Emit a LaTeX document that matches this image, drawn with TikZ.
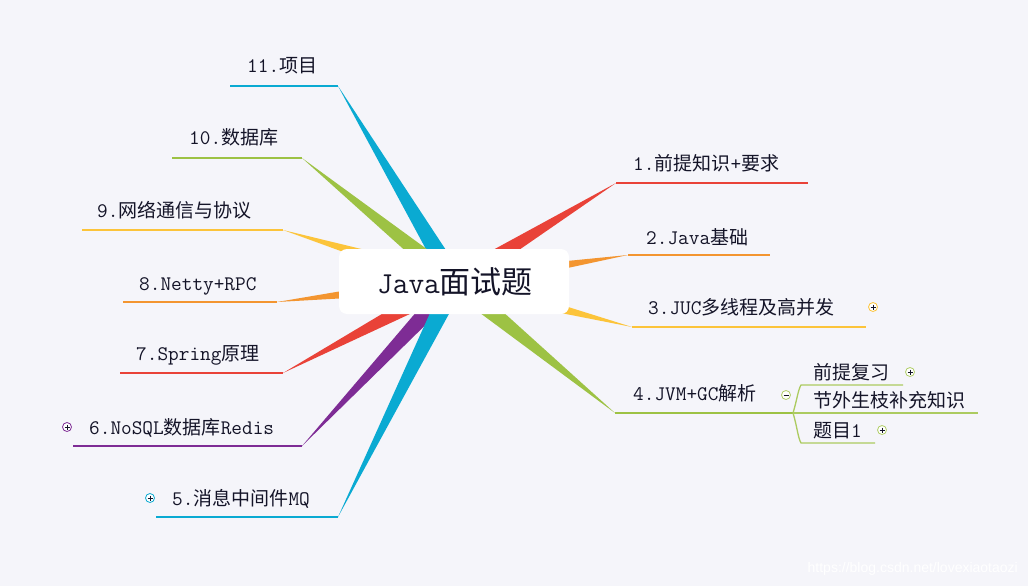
\documentclass[tikz,border=0pt]{standalone}
\usepackage{fontspec}
\newfontfamily\cjk{Noto Sans CJK SC}
\newfontfamily\wmfont{Liberation Sans}
\usetikzlibrary{calc}
\newcommand\zh[1]{{\fontsize{19}{21}\cjk #1}}
\newcommand\zhbig[1]{{\fontsize{31}{34}\cjk #1}}
\definecolor{bg}{RGB}{245,245,250}
\definecolor{cred}{RGB}{233,66,56}
\definecolor{corange}{RGB}{243,149,48}
\definecolor{cyellow}{RGB}{252,196,58}
\definecolor{cgreen}{RGB}{157,194,68}
\definecolor{ccyan}{RGB}{10,170,210}
\definecolor{cpurple}{RGB}{126,44,149}
\definecolor{ctext}{RGB}{20,20,40}
\newcommand\bw[2]{\fill[#1] (#2) -- ($(c)!10pt!90:(#2)$) -- ($(c)!10pt!-90:(#2)$) -- cycle;}
\begin{document}
\begin{tikzpicture}[x=1pt,y=-1pt,
  lbl/.style={anchor=base west, inner sep=0pt, font=\ttfamily\fontsize{20.7}{22}\selectfont, text=ctext},
  sublbl/.style={anchor=base west, inner sep=0pt, font=\ttfamily\fontsize{20.7}{22}\selectfont, text=ctext},
  ln/.style={line width=2pt},
  subln/.style={line width=1.3pt, cgreen!85},
  icon/.style={circle, minimum size=9pt, inner sep=0pt, line width=0.8pt, fill=white},
  sign/.style={line width=0.8pt, ctext}]
\fill[bg] (0,0) rectangle (1028,586);
\useasboundingbox (0,0) rectangle (1028,586);
\coordinate (c) at (455,282);
% line start points
\coordinate (a1) at (616,183);  \coordinate (b1) at (808,183);
\coordinate (a2) at (628,255);  \coordinate (b2) at (770,255);
\coordinate (a3) at (632,327);  \coordinate (b3) at (866,327);
\coordinate (a4) at (615,413);  \coordinate (b4) at (793,413);
\coordinate (a5) at (338,517);  \coordinate (b5) at (156,517);
\coordinate (a6) at (302,446);  \coordinate (b6) at (73,446);
\coordinate (a7) at (283,373);  \coordinate (b7) at (120,373);
\coordinate (a8) at (277,302);  \coordinate (b8) at (123,302);
\coordinate (a9) at (283,230);  \coordinate (b9) at (82,230);
\coordinate (a10) at (302,158); \coordinate (b10) at (172,158);
\coordinate (a11) at (338,86);  \coordinate (b11) at (230,86);
% wedges
\bw{ccyan}{a11}
\bw{cgreen}{a10}
\bw{cyellow}{a9}
\bw{corange}{a8}
\bw{cred}{a7}
\bw{cpurple}{a6}
\bw{ccyan}{a5}
\bw{cred}{a1}
\bw{corange}{a2}
\bw{cyellow}{a3}
\bw{cgreen}{a4}
% center
\node[fill=white, rounded corners=8pt, minimum width=230pt, minimum height=65pt, inner sep=0pt] (root) at (454,281.5) {};
\node[font=\ttfamily\fontsize{30.5}{34}\selectfont, text=ctext, inner sep=0pt, anchor=base] (roott) at (455,293) {Java\zhbig{面试题}};
% underlines
\draw[ln, cred] (a1) -- (b1);
\draw[ln, corange] (a2) -- (b2);
\draw[ln, cyellow] (a3) -- (b3);
\draw[ln, cgreen] (a4) -- (b4);
\draw[ln, ccyan] (a5) -- (b5);
\draw[ln, cpurple] (a6) -- (b6);
\draw[ln, cred] (a7) -- (b7);
\draw[ln, corange] (a8) -- (b8);
\draw[ln, cyellow] (a9) -- (b9);
\draw[ln, cgreen] (a10) -- (b10);
\draw[ln, ccyan] (a11) -- (b11);
% labels
\node[lbl] (t1) at (633,170) {1.\zh{前提知识}+\zh{要求}};
\node[lbl] (t2) at (646,244) {2.Java\zh{基础}};
\node[lbl] (t3) at (648,314) {3.JUC\zh{多线程及高并发}};
\node[lbl] (t4) at (633,400) {4.JVM+GC\zh{解析}};
\node[lbl] (t5) at (172,505) {5.\zh{消息中间件}MQ};
\node[lbl] (t6) at (89,434) {6.NoSQL\zh{数据库}Redis};
\node[lbl] (t7) at (136,360) {7.Spring\zh{原理}};
\node[lbl] (t8) at (139,290) {8.Netty+RPC};
\node[lbl] (t9) at (97,217) {9.\zh{网络通信与协议}};
\node[lbl] (t10) at (189,144) {10.\zh{数据库}};
\node[lbl] (t11) at (247,73) {11.\zh{项目}};
% sub-branches of 4
\coordinate (s1) at (801,385); \coordinate (e1) at (903,385);
\coordinate (s3) at (801,443); \coordinate (e3) at (875,443);
\coordinate (e2) at (978,413);
\draw[subln] (b4) .. controls (797,400) and (798,390) .. (s1) -- (e1);
\draw[subln] (b4) .. controls (797,426) and (798,438) .. (s3) -- (e3);
\draw[subln] (b4) -- (e2);
\node[sublbl] (u1) at (813,379) {\zh{前提复习}};
\node[sublbl] (u2) at (813,407) {\zh{节外生枝补充知识}};
\node[sublbl] (u3) at (813,437) {\zh{题目}1};
% icons
\node[icon, draw=cyellow] (p3) at (873,307) {};
\draw[sign] ($(p3)+(-2.5,0)$) -- ($(p3)+(2.5,0)$) ($(p3)+(0,-2.5)$) -- ($(p3)+(0,2.5)$);
\node[icon, draw=cgreen!80] (m4) at (786,395) {};
\draw[sign] ($(m4)+(-2.5,0)$) -- ($(m4)+(2.5,0)$);
\node[icon, draw=cgreen!80] (q1) at (910,372) {};
\draw[sign] ($(q1)+(-2.5,0)$) -- ($(q1)+(2.5,0)$) ($(q1)+(0,-2.5)$) -- ($(q1)+(0,2.5)$);
\node[icon, draw=cgreen!80] (q3) at (882,430) {};
\draw[sign] ($(q3)+(-2.5,0)$) -- ($(q3)+(2.5,0)$) ($(q3)+(0,-2.5)$) -- ($(q3)+(0,2.5)$);
\node[icon, draw=cpurple] (p6) at (67,427) {};
\draw[sign] ($(p6)+(-2.5,0)$) -- ($(p6)+(2.5,0)$) ($(p6)+(0,-2.5)$) -- ($(p6)+(0,2.5)$);
\node[icon, draw=ccyan] (p5) at (150,498) {};
\draw[sign] ($(p5)+(-2.5,0)$) -- ($(p5)+(2.5,0)$) ($(p5)+(0,-2.5)$) -- ($(p5)+(0,2.5)$);
% watermark
\node[anchor=base east, inner sep=0pt, font=\wmfont\fontsize{14}{16}\selectfont, text=white] (wm) at (1018,572) {https://blog.csdn.net/lovexiaotaozi};
\end{tikzpicture}
\end{document}
